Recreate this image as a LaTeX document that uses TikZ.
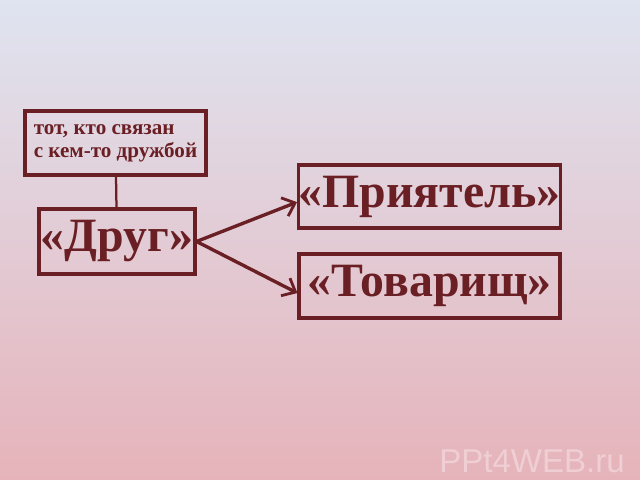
\documentclass[tikz,border=0pt]{standalone}
\usepackage{fontspec}
\setmainfont{Liberation Serif}
\newfontfamily\markfont{Liberation Sans}
\usetikzlibrary{arrows.meta}
\definecolor{maroon}{HTML}{6A1F24}
\definecolor{bgtop}{HTML}{DFE4F0}
\definecolor{bgmid}{HTML}{E3D3DA}
\definecolor{bgbot}{HTML}{E6B3BA}
\definecolor{markcol}{HTML}{EFCFD4}
\tikzset{
  box/.style={draw=maroon, line width=2.2pt, text=maroon, font=\bfseries,
    inner sep=0pt, align=center},
  word/.style={box, font=\fontsize{34}{37}\selectfont\bfseries},
  link/.style={draw=maroon, line width=2.4pt, -{Straight Barb[length=8pt,width=14pt,line width=2pt]}}
}
\begin{document}
\begin{tikzpicture}[x=0.025cm,y=-0.025cm]
  \useasboundingbox (0,0) rectangle (640,480);
  \shade[top color=bgtop, middle color=bgmid, bottom color=bgbot] (0,0) rectangle (640,480);
  \node[text=markcol] (mark) at (532,461) {\markfont\fontsize{23.5}{26}\selectfont PPt4WEB.ru};
  \node[box, minimum width=4.525cm, minimum height=1.6cm,
    font=\fontsize{15}{16.5}\selectfont\bfseries, align=left]
    (note) at (115.5,143) {тот, кто связан\\с кем-то дружбой};
  \node[word, minimum width=3.9cm, minimum height=1.625cm] (drug) at (117,241.5) {«Друг»};
  \node[word, minimum width=6.525cm, minimum height=1.575cm] (priyatel) at (429.5,196.5) {«Приятель»};
  \node[word, minimum width=6.525cm, minimum height=1.6cm] (tovarishch) at (429.5,286) {«Товарищ»};
  \begin{scope}
    \draw[draw=maroon, line width=1.6pt] (note) to (drug);
    \draw[link] (drug.east) to ([yshift=-4pt]priyatel.west);
    \draw[link] (drug.east) to ([yshift=-5pt]tovarishch.west);
  \end{scope}
\end{tikzpicture}
\end{document}
